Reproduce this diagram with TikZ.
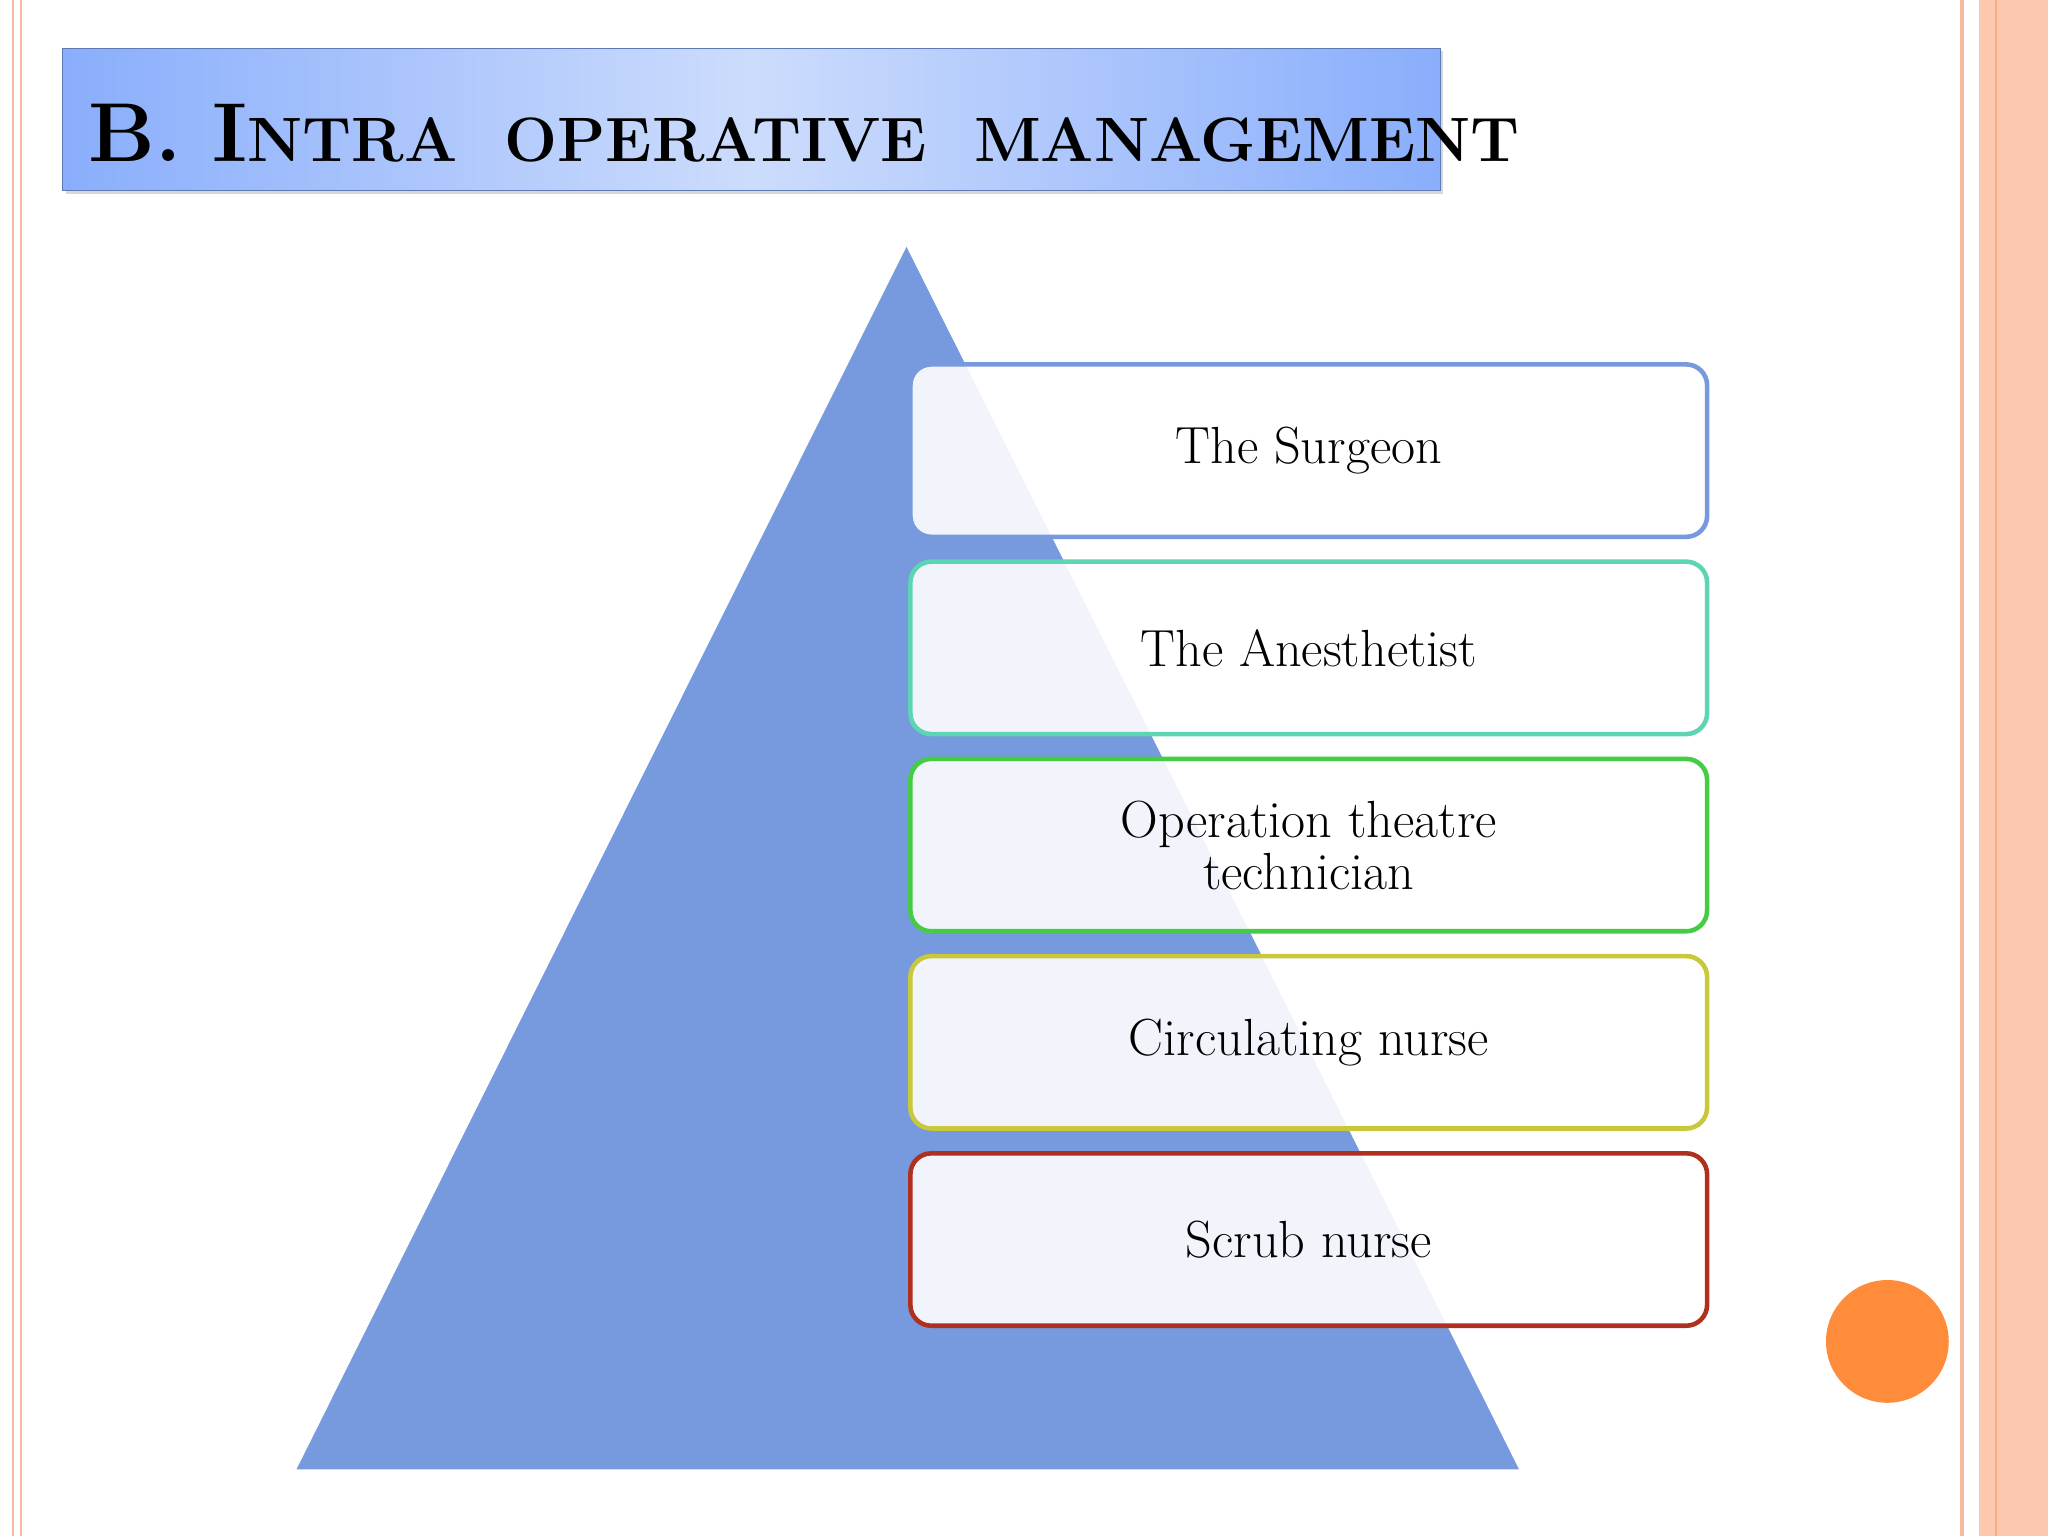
\documentclass[tikz,border=0pt]{standalone}
\usetikzlibrary{shadows}
\definecolor{tri}{HTML}{7799DD}
\definecolor{salmon}{HTML}{F8B8A0}
\definecolor{peach}{HTML}{FDC8B0}
\definecolor{orng}{HTML}{FF8C3A}
\definecolor{tblue}{HTML}{8AAEFC}
\definecolor{tlight}{HTML}{CCDCFC}
\begin{document}
\begin{tikzpicture}[x=1pt,y=-1pt,
  item/.style={draw,line width=3.5pt,rounded corners=16pt,fill=white,fill opacity=0.9,text opacity=1,
    minimum width=610pt,minimum height=132pt,align=center,font=\fontsize{40}{46}\selectfont}]
\useasboundingbox (0,0) rectangle (1568,1176);
\fill[white] (0,0) rectangle (1568,1176);
% borders
\draw[salmon,line width=2pt] (10,0) -- (10,1176);
\draw[salmon,line width=1.5pt] (16,0) -- (16,1176);
\draw[salmon,line width=3pt] (1502,0) -- (1502,1176);
\fill[peach] (1515,0) rectangle (1568,1176);
\draw[salmon!80!orange,line width=1.5pt] (1528,0) -- (1528,1176);
% title
\shade[left color=tblue,right color=tblue,middle color=tlight,drop shadow={opacity=0.3}] (48,37) rectangle (1103,146);
\draw[tri!80!black,line width=1pt] (48,37) rectangle (1103,146);
\node[anchor=west,font=\bfseries] (title) at (64,102) {\fontsize{64}{70}\selectfont B. I\fontsize{48}{50}\selectfont NTRA\ \ OPERATIVE\ \ MANAGEMENT};
% triangle
\fill[tri] (694,189) -- (1163,1125) -- (227,1125) -- cycle;
% boxes
\node[item,draw=tri] (a) at (1002,345) {The Surgeon};
\node[item,draw={rgb,255:red,93;green,213;blue,181}] (b) at (1002,496) {The Anesthetist};
\node[item,draw={rgb,255:red,68;green,204;blue,68}] (c) at (1002,647) {Operation theatre\\[-6pt]technician};
\node[item,draw={rgb,255:red,200;green,200;blue,58}] (d) at (1002,798) {Circulating nurse};
\node[item,draw={rgb,255:red,176;green,48;blue,32}] (e) at (1002,949) {Scrub nurse};
% dot
\fill[orng] (1445,1027) circle (47);
\end{tikzpicture}
\end{document}
